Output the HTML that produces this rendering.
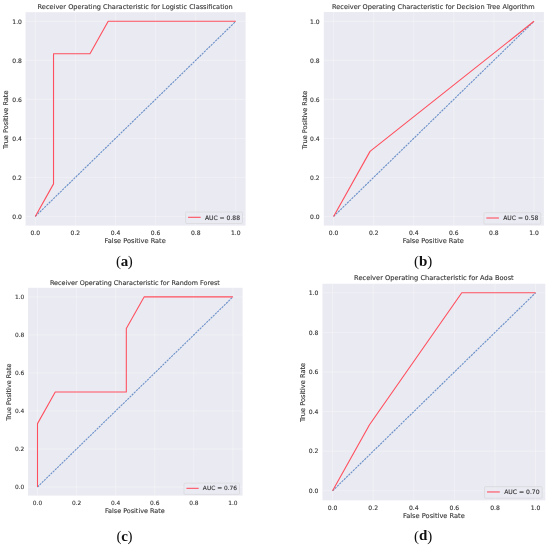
<!DOCTYPE html>
<html lang="en"><head><meta charset="utf-8"><title>ROC curves</title>
<style>
html,body{margin:0;padding:0;background:#fff;}
body{width:550px;height:546px;overflow:hidden;}
svg{display:block;}
svg text{font-family:"DejaVu Sans","Liberation Sans",sans-serif;fill:#333333;stroke:#333333;stroke-width:0.18px;stroke-opacity:0.6;}
svg text.cap{font-family:"Liberation Serif","DejaVu Serif",serif;font-size:15px;fill:#111;stroke:none;}
</style></head><body>
<svg width="550" height="546" viewBox="0 0 550 546">
<rect width="550" height="546" fill="#fff"/>
<g class="panel">
<rect x="25.55" y="12.2" width="220.05" height="213.4" fill="#eaeaf2"/>
<path d="M35.3 12.2V225.6M25.55 216.4H245.6M75.4 12.2V225.6M25.55 177.38H245.6M115.5 12.2V225.6M25.55 138.36H245.6M155.6 12.2V225.6M25.55 99.34H245.6M195.7 12.2V225.6M25.55 60.32H245.6M235.8 12.2V225.6M25.55 21.3H245.6" stroke="#fff" stroke-opacity="0.55" stroke-width="0.55" fill="none"/>
<path d="M35.3 216.4L235.8 21.3" stroke="#6a90c8" stroke-width="1.1" stroke-dasharray="2.2 0.94" fill="none"/>
<path d="M35.3 216.4L53.53 183.88L53.53 53.82L89.98 53.82L108.21 21.3L235.8 21.3" stroke="#ff4f5e" stroke-width="1.1" fill="none" stroke-linejoin="round"/>
<text x="135.17" y="8.9" font-size="6.59" text-anchor="middle">Receiver Operating Characteristic for Logistic Classification</text>
<text x="35.3" y="234.64" font-size="6.04" text-anchor="middle">0.0</text>
<text x="21.95" y="218.65" font-size="6.04" text-anchor="end">0.0</text>
<text x="75.4" y="234.64" font-size="6.04" text-anchor="middle">0.2</text>
<text x="21.95" y="179.63" font-size="6.04" text-anchor="end">0.2</text>
<text x="115.5" y="234.64" font-size="6.04" text-anchor="middle">0.4</text>
<text x="21.95" y="140.61" font-size="6.04" text-anchor="end">0.4</text>
<text x="155.6" y="234.64" font-size="6.04" text-anchor="middle">0.6</text>
<text x="21.95" y="101.59" font-size="6.04" text-anchor="end">0.6</text>
<text x="195.7" y="234.64" font-size="6.04" text-anchor="middle">0.8</text>
<text x="21.95" y="62.57" font-size="6.04" text-anchor="end">0.8</text>
<text x="235.8" y="234.64" font-size="6.04" text-anchor="middle">1.0</text>
<text x="21.95" y="23.55" font-size="6.04" text-anchor="end">1.0</text>
<text x="135.17" y="243.08" font-size="6.59" text-anchor="middle">False Positive Rate</text>
<text transform="translate(8.17 119.8) rotate(-90)" font-size="6.59" text-anchor="middle">True Positive Rate</text>
<rect x="185.57" y="212.02" width="56.94" height="11.49" rx="1.1" fill="#eaeaf2" fill-opacity="0.8" stroke="#ccc" stroke-opacity="0.8" stroke-width="0.55"/>
<path d="M188.07 217.31h12.59" stroke="#ff4f5e" stroke-width="1.1"/>
<text x="204.95" y="219.51" font-size="6.04">AUC = 0.88</text>
</g>
<text class="cap" x="124.4" y="265.6" text-anchor="middle"><tspan dy="0.5">(</tspan><tspan font-weight="bold" dx="-0.4" dy="-0.5">a</tspan><tspan dx="-0.4" dy="0.5">)</tspan></text>
<g class="panel">
<rect x="323.8" y="12" width="220.1" height="213.6" fill="#eaeaf2"/>
<path d="M333.6 12V225.6M323.8 216.4H543.9M373.68 12V225.6M323.8 177.38H543.9M413.76 12V225.6M323.8 138.36H543.9M453.84 12V225.6M323.8 99.34H543.9M493.92 12V225.6M323.8 60.32H543.9M534 12V225.6M323.8 21.3H543.9" stroke="#fff" stroke-opacity="0.55" stroke-width="0.55" fill="none"/>
<path d="M333.6 216.4L534 21.3" stroke="#6a90c8" stroke-width="1.1" stroke-dasharray="2.2 0.94" fill="none"/>
<path d="M333.6 216.4L370.04 151.37L534 21.3" stroke="#ff4f5e" stroke-width="1.1" fill="none" stroke-linejoin="round"/>
<text x="433.35" y="8.7" font-size="6.59" text-anchor="middle">Receiver Operating Characteristic for Decision Tree Algorithm</text>
<text x="333.6" y="234.64" font-size="6.04" text-anchor="middle">0.0</text>
<text x="319.7" y="218.65" font-size="6.04" text-anchor="end">0.0</text>
<text x="373.68" y="234.64" font-size="6.04" text-anchor="middle">0.2</text>
<text x="319.7" y="179.63" font-size="6.04" text-anchor="end">0.2</text>
<text x="413.76" y="234.64" font-size="6.04" text-anchor="middle">0.4</text>
<text x="319.7" y="140.61" font-size="6.04" text-anchor="end">0.4</text>
<text x="453.84" y="234.64" font-size="6.04" text-anchor="middle">0.6</text>
<text x="319.7" y="101.59" font-size="6.04" text-anchor="end">0.6</text>
<text x="493.92" y="234.64" font-size="6.04" text-anchor="middle">0.8</text>
<text x="319.7" y="62.57" font-size="6.04" text-anchor="end">0.8</text>
<text x="534" y="234.64" font-size="6.04" text-anchor="middle">1.0</text>
<text x="319.7" y="23.55" font-size="6.04" text-anchor="end">1.0</text>
<text x="433.35" y="243.08" font-size="6.59" text-anchor="middle">False Positive Rate</text>
<text transform="translate(306.72 119.9) rotate(-90)" font-size="6.59" text-anchor="middle">True Positive Rate</text>
<rect x="483.85" y="212.71" width="56.95" height="11.49" rx="1.1" fill="#eaeaf2" fill-opacity="0.8" stroke="#ccc" stroke-opacity="0.8" stroke-width="0.55"/>
<path d="M486.35 218.01h12.59" stroke="#ff4f5e" stroke-width="1.1"/>
<text x="503.24" y="220.21" font-size="6.04">AUC = 0.58</text>
</g>
<text class="cap" x="423.1" y="265.6" text-anchor="middle"><tspan dy="0.5">(</tspan><tspan font-weight="bold" dx="0" dy="-0.5">b</tspan><tspan dx="0" dy="0.5">)</tspan></text>
<g class="panel">
<rect x="28" y="287.8" width="214.5" height="207.8" fill="#eaeaf2"/>
<path d="M37.5 287.8V495.6M28 487H242.5M76.58 287.8V495.6M28 448.98H242.5M115.66 287.8V495.6M28 410.96H242.5M154.74 287.8V495.6M28 372.94H242.5M193.82 287.8V495.6M28 334.92H242.5M232.9 287.8V495.6M28 296.9H242.5" stroke="#fff" stroke-opacity="0.55" stroke-width="0.54" fill="none"/>
<path d="M37.5 487L232.9 296.9" stroke="#6a90c8" stroke-width="1.07" stroke-dasharray="2.14 0.92" fill="none"/>
<path d="M37.5 487L37.5 423.63L55.26 391.95L126.32 391.95L126.32 328.58L144.08 296.9L232.9 296.9" stroke="#ff4f5e" stroke-width="1.07" fill="none" stroke-linejoin="round"/>
<text x="134.85" y="284.59" font-size="6.43" text-anchor="middle">Receiver Operating Characteristic for Random Forest</text>
<text x="37.5" y="505.01" font-size="5.89" text-anchor="middle">0.0</text>
<text x="24.3" y="489.19" font-size="5.89" text-anchor="end">0.0</text>
<text x="76.58" y="505.01" font-size="5.89" text-anchor="middle">0.2</text>
<text x="24.3" y="451.17" font-size="5.89" text-anchor="end">0.2</text>
<text x="115.66" y="505.01" font-size="5.89" text-anchor="middle">0.4</text>
<text x="24.3" y="413.15" font-size="5.89" text-anchor="end">0.4</text>
<text x="154.74" y="505.01" font-size="5.89" text-anchor="middle">0.6</text>
<text x="24.3" y="375.13" font-size="5.89" text-anchor="end">0.6</text>
<text x="193.82" y="505.01" font-size="5.89" text-anchor="middle">0.8</text>
<text x="24.3" y="337.11" font-size="5.89" text-anchor="end">0.8</text>
<text x="232.9" y="505.01" font-size="5.89" text-anchor="middle">1.0</text>
<text x="24.3" y="299.09" font-size="5.89" text-anchor="end">1.0</text>
<text x="134.85" y="512.64" font-size="6.43" text-anchor="middle">False Positive Rate</text>
<text transform="translate(10.94 392.2) rotate(-90)" font-size="6.43" text-anchor="middle">True Positive Rate</text>
<rect x="183.98" y="483.16" width="55.5" height="11.21" rx="1.07" fill="#eaeaf2" fill-opacity="0.8" stroke="#ccc" stroke-opacity="0.8" stroke-width="0.54"/>
<path d="M186.42 488.32h12.27" stroke="#ff4f5e" stroke-width="1.07"/>
<text x="202.87" y="490.46" font-size="5.89">AUC = 0.76</text>
</g>
<text class="cap" x="124.5" y="540.5" text-anchor="middle"><tspan dy="0.5">(</tspan><tspan font-weight="bold" dx="-0.4" dy="-0.5">c</tspan><tspan dx="-0.4" dy="0.5">)</tspan></text>
<g class="panel">
<rect x="322.5" y="283.75" width="222.8" height="216.6" fill="#eaeaf2"/>
<path d="M332.6 283.75V500.35M322.5 490.8H545.3M373.2 283.75V500.35M322.5 451.2H545.3M413.8 283.75V500.35M322.5 411.6H545.3M454.4 283.75V500.35M322.5 372H545.3M495 283.75V500.35M322.5 332.4H545.3M535.6 283.75V500.35M322.5 292.8H545.3" stroke="#fff" stroke-opacity="0.55" stroke-width="0.56" fill="none"/>
<path d="M332.6 490.8L535.6 292.8" stroke="#6a90c8" stroke-width="1.11" stroke-dasharray="2.22 0.95" fill="none"/>
<path d="M332.6 490.8L369.51 424.8L461.78 292.8L535.6 292.8" stroke="#ff4f5e" stroke-width="1.11" fill="none" stroke-linejoin="round"/>
<text x="433.9" y="280.41" font-size="6.67" text-anchor="middle">Receiver Operating Characteristic for Ada Boost</text>
<text x="332.6" y="509.5" font-size="6.12" text-anchor="middle">0.0</text>
<text x="318.4" y="493.08" font-size="6.12" text-anchor="end">0.0</text>
<text x="373.2" y="509.5" font-size="6.12" text-anchor="middle">0.2</text>
<text x="318.4" y="453.48" font-size="6.12" text-anchor="end">0.2</text>
<text x="413.8" y="509.5" font-size="6.12" text-anchor="middle">0.4</text>
<text x="318.4" y="413.88" font-size="6.12" text-anchor="end">0.4</text>
<text x="454.4" y="509.5" font-size="6.12" text-anchor="middle">0.6</text>
<text x="318.4" y="374.28" font-size="6.12" text-anchor="end">0.6</text>
<text x="495" y="509.5" font-size="6.12" text-anchor="middle">0.8</text>
<text x="318.4" y="334.68" font-size="6.12" text-anchor="end">0.8</text>
<text x="535.6" y="509.5" font-size="6.12" text-anchor="middle">1.0</text>
<text x="318.4" y="295.08" font-size="6.12" text-anchor="end">1.0</text>
<text x="433.9" y="518.05" font-size="6.67" text-anchor="middle">False Positive Rate</text>
<text transform="translate(305.21 392.45) rotate(-90)" font-size="6.67" text-anchor="middle">True Positive Rate</text>
<rect x="484.52" y="486.6" width="57.65" height="11.63" rx="1.11" fill="#eaeaf2" fill-opacity="0.8" stroke="#ccc" stroke-opacity="0.8" stroke-width="0.56"/>
<path d="M487.05 491.96h12.74" stroke="#ff4f5e" stroke-width="1.11"/>
<text x="504.14" y="494.18" font-size="6.12">AUC = 0.70</text>
</g>
<text class="cap" x="423.1" y="540" text-anchor="middle"><tspan dy="0.5">(</tspan><tspan font-weight="bold" dx="0" dy="-0.5">d</tspan><tspan dx="0" dy="0.5">)</tspan></text>
</svg>
</body></html>
